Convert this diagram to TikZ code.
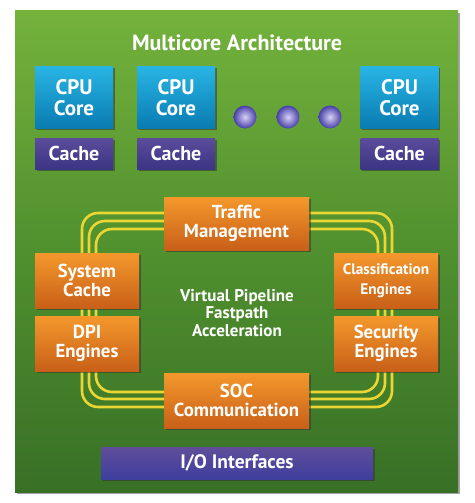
\documentclass[tikz,border=0pt]{standalone}
\usepackage{fontspec}
\setmainfont{PT Sans}
\usetikzlibrary{shadows}
\definecolor{panelTop}{RGB}{116,178,60}
\definecolor{panelMid}{RGB}{80,144,46}
\definecolor{panelBot}{RGB}{56,112,38}
\definecolor{cpuTop}{RGB}{40,180,228}
\definecolor{cpuBot}{RGB}{10,124,178}
\definecolor{cacheTop}{RGB}{92,76,156}
\definecolor{cacheBot}{RGB}{60,52,132}
\definecolor{orTop}{RGB}{244,152,44}
\definecolor{orBot}{RGB}{200,96,24}
\definecolor{ioTop}{RGB}{96,78,154}
\definecolor{ioBot}{RGB}{62,62,158}
\definecolor{track}{RGB}{236,214,52}
\definecolor{dotIn}{RGB}{215,210,245}
\definecolor{dotOut}{RGB}{72,62,168}
\tikzset{
  box/.style={inner sep=0pt, align=center, text=white, font=\bfseries,
    drop shadow={shadow xshift=1.5pt, shadow yshift=-1.5pt, opacity=0.55, fill=black!80}},
  cpubox/.style={box, minimum width=78pt, minimum height=61pt, top color=cpuTop, bottom color=cpuBot, font=\bfseries\fontsize{21}{21}\selectfont},
  cachebox/.style={box, minimum width=78pt, minimum height=31pt, top color=cacheTop, bottom color=cacheBot, font=\bfseries\fontsize{20}{19}\selectfont},
  orbox/.style={box, minimum height=55pt, top color=orTop, bottom color=orBot, font=\bfseries\fontsize{18.8}{19.5}\selectfont},
  dot/.style={circle, minimum size=23pt, inner sep=0pt, inner color=dotIn, outer color=dotOut},
  trk/.style={draw=track, line width=2.6pt, rounded corners=16pt},
  label/.style={text=white, align=center, font=\bfseries}
}
\begin{document}
\begin{tikzpicture}[x=1pt, y=-1pt]
\useasboundingbox (0,0) rectangle (474,503);
\fill[white] (0,0) rectangle (474,503);
% panel
\fill[black!60, opacity=0.6] (17,13) rectangle (460,494);
\path[shading=axis, top color=panelTop, bottom color=panelBot, middle color=panelMid] (15,11) rectangle (458,492);
\node[label, font=\bfseries\fontsize{22}{22}\selectfont] (title) at (237,43) {Multicore Architecture};
% CPU cores
\node[cpubox] (cpu1) at (74,97.5) {CPU\\Core};
\node[cpubox] (cpu2) at (176,97.5) {CPU\\Core};
\node[cpubox] (cpu3) at (399.5,97.5) {CPU\\Core};
\node[cachebox] (c1) at (74,153.5) {Cache};
\node[cachebox] (c2) at (176,153.5) {Cache};
\node[cachebox] (c3) at (399.5,153.5) {Cache};
\node[dot] (d1) at (245,117) {};
\node[dot] (d2) at (288,117) {};
\node[dot] (d3) at (330,117) {};
% track loop
\draw[trk] (82,213) rectangle (392,407);
\draw[trk] (89,221) rectangle (385,399);
\draw[trk] (96,229) rectangle (378,392);
% pipeline boxes
\node[orbox, minimum width=145pt, minimum height=53pt] (traffic) at (236.5,223.5) {Traffic\\Management};
\node[orbox, minimum width=104pt] (syscache) at (87,280.5) {System\\Cache};
\node[orbox, minimum width=104pt] (dpi) at (87,343.5) {DPI\\Engines};
\node[orbox, minimum width=104pt, font=\bfseries\fontsize{15.3}{19.5}\selectfont] (class) at (386,280.5) {Classification\\Engines};
\node[orbox, minimum width=104pt] (sec) at (386,343.5) {Security\\Engines};
\node[orbox, minimum width=145pt] (soc) at (236.5,400.5) {SOC\\Communication};
\node[label, font=\bfseries\fontsize{17}{17.5}\selectfont] (vp) at (237,313) {Virtual Pipeline\\Fastpath\\Acceleration};
% IO
\node[box, minimum width=272pt, minimum height=32pt, top color=ioTop, bottom color=ioBot, font=\bfseries\fontsize{19.5}{19}\selectfont] (io) at (237,463) {I/O Interfaces};
\end{tikzpicture}
\end{document}
